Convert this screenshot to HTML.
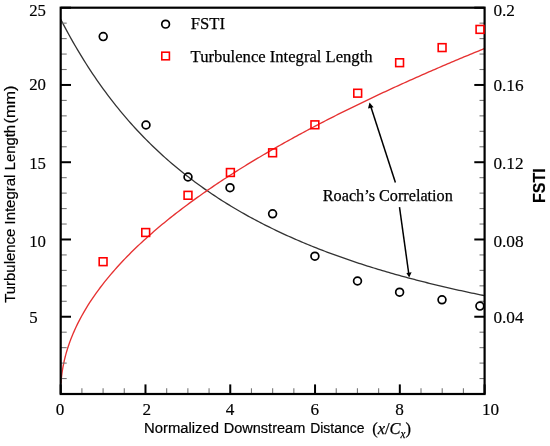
<!DOCTYPE html><html><head><meta charset="utf-8"><style>html,body{margin:0;padding:0;background:#fff;width:550px;height:446px;overflow:hidden}svg{display:block}.s{font-family:"Liberation Serif","Times New Roman",serif}.a{font-family:"Liberation Sans",Arial,sans-serif;stroke:#000;stroke-width:0.2px}</style></head><body>
<svg width="550" height="446" viewBox="0 0 550 446">
<rect width="550" height="446" fill="#fff"/>
<defs><clipPath id="c"><rect x="60.7" y="7.7" width="423.90000000000003" height="386.3"/></clipPath></defs>
<g clip-path="url(#c)" fill="none"><polyline points="60.70,19.23 62.83,23.35 64.96,27.39 67.09,31.35 69.22,35.25 71.35,39.07 73.48,42.82 75.61,46.51 77.74,50.13 79.87,53.69 82.00,57.19 84.13,60.62 86.26,64.00 88.39,67.32 90.52,70.59 92.65,73.79 94.78,76.95 96.91,80.05 99.04,83.11 101.17,86.11 103.30,89.06 105.43,91.97 107.56,94.82 109.69,97.64 111.82,100.41 113.95,103.13 116.08,105.82 118.21,108.46 120.34,111.06 122.47,113.62 124.60,116.14 126.73,118.62 128.86,121.07 130.99,123.48 133.13,125.85 135.26,128.19 137.39,130.49 139.52,132.76 141.65,135.00 143.78,137.21 145.91,139.38 148.04,141.52 150.17,143.64 152.30,145.72 154.43,147.77 156.56,149.80 158.69,151.79 160.82,153.76 162.95,155.71 165.08,157.62 167.21,159.51 169.34,161.38 171.47,163.22 173.60,165.03 175.73,166.82 177.86,168.59 179.99,170.33 182.12,172.05 184.25,173.75 186.38,175.43 188.51,177.09 190.64,178.72 192.77,180.33 194.90,181.93 197.03,183.50 199.16,185.06 201.29,186.59 203.42,188.10 205.55,189.60 207.68,191.08 209.81,192.54 211.94,193.98 214.07,195.41 216.20,196.82 218.33,198.21 220.46,199.58 222.59,200.94 224.72,202.28 226.85,203.61 228.98,204.92 231.11,206.22 233.24,207.50 235.37,208.76 237.50,210.02 239.63,211.25 241.76,212.48 243.89,213.69 246.02,214.88 248.15,216.07 250.28,217.24 252.41,218.39 254.54,219.54 256.67,220.67 258.80,221.79 260.93,222.89 263.06,223.99 265.19,225.07 267.32,226.14 269.45,227.20 271.58,228.25 273.72,229.29 275.85,230.31 277.98,231.33 280.11,232.34 282.24,233.33 284.37,234.31 286.50,235.29 288.63,236.25 290.76,237.21 292.89,238.15 295.02,239.09 297.15,240.01 299.28,240.93 301.41,241.83 303.54,242.73 305.67,243.62 307.80,244.50 309.93,245.37 312.06,246.24 314.19,247.09 316.32,247.94 318.45,248.77 320.58,249.60 322.71,250.43 324.84,251.24 326.97,252.05 329.10,252.84 331.23,253.63 333.36,254.42 335.49,255.19 337.62,255.96 339.75,256.72 341.88,257.48 344.01,258.23 346.14,258.97 348.27,259.70 350.40,260.43 352.53,261.15 354.66,261.86 356.79,262.57 358.92,263.27 361.05,263.96 363.18,264.65 365.31,265.33 367.44,266.01 369.57,266.68 371.70,267.34 373.83,268.00 375.96,268.66 378.09,269.30 380.22,269.94 382.35,270.58 384.48,271.21 386.61,271.83 388.74,272.45 390.87,273.07 393.00,273.68 395.13,274.28 397.26,274.88 399.39,275.47 401.52,276.06 403.65,276.64 405.78,277.22 407.91,277.80 410.04,278.37 412.17,278.93 414.31,279.49 416.44,280.05 418.57,280.60 420.70,281.14 422.83,281.68 424.96,282.22 427.09,282.75 429.22,283.28 431.35,283.81 433.48,284.33 435.61,284.84 437.74,285.36 439.87,285.86 442.00,286.37 444.13,286.87 446.26,287.36 448.39,287.86 450.52,288.34 452.65,288.83 454.78,289.31 456.91,289.79 459.04,290.26 461.17,290.73 463.30,291.20 465.43,291.66 467.56,292.12 469.69,292.57 471.82,293.03 473.95,293.47 476.08,293.92 478.21,294.36 480.34,294.80 482.47,295.24 484.60,295.67" stroke="#333" stroke-width="1.3"/><polyline points="60.95,383.55 61.21,380.11 61.46,377.46 61.72,375.23 61.97,373.27 62.23,371.49 62.48,369.86 62.73,368.33 62.99,366.90 63.24,365.55 63.50,364.26 63.75,363.03 64.01,361.85 64.26,360.71 64.52,359.61 64.77,358.55 65.02,357.53 65.28,356.53 65.53,355.56 65.79,354.61 66.04,353.69 66.30,352.78 66.55,351.90 66.80,351.04 67.06,350.20 67.31,349.37 67.57,348.56 67.82,347.76 68.08,346.97 68.33,346.20 68.58,345.45 68.84,344.70 69.09,343.97 69.35,343.24 69.60,342.53 69.86,341.83 70.11,341.14 70.36,340.45 70.62,339.78 70.87,339.11 71.13,338.45 71.38,337.80 71.64,337.16 71.89,336.53 72.15,335.90 72.40,335.28 72.65,334.66 72.91,334.06 73.16,333.45 73.42,332.86 75.48,328.23 77.55,323.91 79.62,319.84 81.68,316.00 83.75,312.33 85.81,308.83 87.88,305.47 89.95,302.23 92.01,299.10 94.08,296.08 96.15,293.14 98.21,290.29 100.28,287.52 102.34,284.82 104.41,282.19 106.48,279.61 108.54,277.09 110.61,274.63 112.68,272.22 114.74,269.85 116.81,267.53 118.87,265.25 120.94,263.01 123.01,260.81 125.07,258.65 127.14,256.52 129.21,254.42 131.27,252.35 133.34,250.31 135.40,248.31 137.47,246.32 139.54,244.37 141.60,242.44 143.67,240.54 145.74,238.65 147.80,236.80 149.87,234.96 151.93,233.14 154.00,231.35 156.07,229.57 158.13,227.81 160.20,226.08 162.27,224.35 164.33,222.65 166.40,220.96 168.46,219.29 170.53,217.64 172.60,216.00 174.66,214.38 176.73,212.77 178.80,211.17 180.86,209.59 182.93,208.02 184.99,206.47 187.06,204.93 189.13,203.40 191.19,201.88 193.26,200.38 195.33,198.88 197.39,197.40 199.46,195.93 201.52,194.47 203.59,193.02 205.66,191.58 207.72,190.15 209.79,188.73 211.86,187.32 213.92,185.92 215.99,184.53 218.05,183.15 220.12,181.78 222.19,180.41 224.25,179.06 226.32,177.71 228.39,176.37 230.45,175.04 232.52,173.72 234.58,172.41 236.65,171.10 238.72,169.80 240.78,168.51 242.85,167.23 244.92,165.95 246.98,164.68 249.05,163.42 251.11,162.16 253.18,160.91 255.25,159.67 257.31,158.44 259.38,157.21 261.45,155.98 263.51,154.77 265.58,153.56 267.64,152.35 269.71,151.15 271.78,149.96 273.84,148.78 275.91,147.59 277.98,146.42 280.04,145.25 282.11,144.08 284.17,142.93 286.24,141.77 288.31,140.62 290.37,139.48 292.44,138.34 294.51,137.21 296.57,136.08 298.64,134.96 300.70,133.84 302.77,132.73 304.84,131.62 306.90,130.51 308.97,129.41 311.04,128.32 313.10,127.23 315.17,126.14 317.23,125.06 319.30,123.98 321.37,122.91 323.43,121.84 325.50,120.77 327.57,119.71 329.63,118.66 331.70,117.60 333.76,116.56 335.83,115.51 337.90,114.47 339.96,113.43 342.03,112.40 344.10,111.37 346.16,110.34 348.23,109.32 350.29,108.30 352.36,107.29 354.43,106.28 356.49,105.27 358.56,104.27 360.63,103.27 362.69,102.27 364.76,101.28 366.82,100.28 368.89,99.30 370.96,98.31 373.02,97.33 375.09,96.36 377.16,95.38 379.22,94.41 381.29,93.44 383.35,92.48 385.42,91.52 387.49,90.56 389.55,89.60 391.62,88.65 393.69,87.70 395.75,86.75 397.82,85.81 399.88,84.87 401.95,83.93 404.02,82.99 406.08,82.06 408.15,81.13 410.22,80.20 412.28,79.28 414.35,78.36 416.41,77.44 418.48,76.52 420.55,75.61 422.61,74.70 424.68,73.79 426.75,72.88 428.81,71.98 430.88,71.08 432.94,70.18 435.01,69.29 437.08,68.39 439.14,67.50 441.21,66.61 443.28,65.73 445.34,64.84 447.41,63.96 449.47,63.08 451.54,62.20 453.61,61.33 455.67,60.46 457.74,59.59 459.81,58.72 461.87,57.86 463.94,56.99 466.00,56.13 468.07,55.27 470.14,54.42 472.20,53.56 474.27,52.71 476.34,51.86 478.40,51.01 480.47,50.16 482.53,49.32 484.60,48.48" stroke="#e63232" stroke-width="1.35"/></g>
<line x1="60.7" y1="394.00" x2="71" y2="394.00" stroke="#000" stroke-width="2"/><line x1="484.6" y1="394.00" x2="474.30" y2="394.00" stroke="#000" stroke-width="2"/><line x1="60.7" y1="378.55" x2="66.7" y2="378.55" stroke="#777" stroke-width="1.1"/><line x1="484.6" y1="378.55" x2="479.50" y2="378.55" stroke="#777" stroke-width="1.1"/><line x1="60.7" y1="363.10" x2="66.7" y2="363.10" stroke="#777" stroke-width="1.1"/><line x1="484.6" y1="363.10" x2="479.50" y2="363.10" stroke="#777" stroke-width="1.1"/><line x1="60.7" y1="347.64" x2="66.7" y2="347.64" stroke="#777" stroke-width="1.1"/><line x1="484.6" y1="347.64" x2="479.50" y2="347.64" stroke="#777" stroke-width="1.1"/><line x1="60.7" y1="332.19" x2="66.7" y2="332.19" stroke="#777" stroke-width="1.1"/><line x1="484.6" y1="332.19" x2="479.50" y2="332.19" stroke="#777" stroke-width="1.1"/><line x1="60.7" y1="316.74" x2="71" y2="316.74" stroke="#000" stroke-width="2"/><line x1="484.6" y1="316.74" x2="474.30" y2="316.74" stroke="#000" stroke-width="2"/><line x1="60.7" y1="301.29" x2="66.7" y2="301.29" stroke="#777" stroke-width="1.1"/><line x1="484.6" y1="301.29" x2="479.50" y2="301.29" stroke="#777" stroke-width="1.1"/><line x1="60.7" y1="285.84" x2="66.7" y2="285.84" stroke="#777" stroke-width="1.1"/><line x1="484.6" y1="285.84" x2="479.50" y2="285.84" stroke="#777" stroke-width="1.1"/><line x1="60.7" y1="270.38" x2="66.7" y2="270.38" stroke="#777" stroke-width="1.1"/><line x1="484.6" y1="270.38" x2="479.50" y2="270.38" stroke="#777" stroke-width="1.1"/><line x1="60.7" y1="254.93" x2="66.7" y2="254.93" stroke="#777" stroke-width="1.1"/><line x1="484.6" y1="254.93" x2="479.50" y2="254.93" stroke="#777" stroke-width="1.1"/><line x1="60.7" y1="239.48" x2="71" y2="239.48" stroke="#000" stroke-width="2"/><line x1="484.6" y1="239.48" x2="474.30" y2="239.48" stroke="#000" stroke-width="2"/><line x1="60.7" y1="224.03" x2="66.7" y2="224.03" stroke="#777" stroke-width="1.1"/><line x1="484.6" y1="224.03" x2="479.50" y2="224.03" stroke="#777" stroke-width="1.1"/><line x1="60.7" y1="208.58" x2="66.7" y2="208.58" stroke="#777" stroke-width="1.1"/><line x1="484.6" y1="208.58" x2="479.50" y2="208.58" stroke="#777" stroke-width="1.1"/><line x1="60.7" y1="193.12" x2="66.7" y2="193.12" stroke="#777" stroke-width="1.1"/><line x1="484.6" y1="193.12" x2="479.50" y2="193.12" stroke="#777" stroke-width="1.1"/><line x1="60.7" y1="177.67" x2="66.7" y2="177.67" stroke="#777" stroke-width="1.1"/><line x1="484.6" y1="177.67" x2="479.50" y2="177.67" stroke="#777" stroke-width="1.1"/><line x1="60.7" y1="162.22" x2="71" y2="162.22" stroke="#000" stroke-width="2"/><line x1="484.6" y1="162.22" x2="474.30" y2="162.22" stroke="#000" stroke-width="2"/><line x1="60.7" y1="146.77" x2="66.7" y2="146.77" stroke="#777" stroke-width="1.1"/><line x1="484.6" y1="146.77" x2="479.50" y2="146.77" stroke="#777" stroke-width="1.1"/><line x1="60.7" y1="131.32" x2="66.7" y2="131.32" stroke="#777" stroke-width="1.1"/><line x1="484.6" y1="131.32" x2="479.50" y2="131.32" stroke="#777" stroke-width="1.1"/><line x1="60.7" y1="115.86" x2="66.7" y2="115.86" stroke="#777" stroke-width="1.1"/><line x1="484.6" y1="115.86" x2="479.50" y2="115.86" stroke="#777" stroke-width="1.1"/><line x1="60.7" y1="100.41" x2="66.7" y2="100.41" stroke="#777" stroke-width="1.1"/><line x1="484.6" y1="100.41" x2="479.50" y2="100.41" stroke="#777" stroke-width="1.1"/><line x1="60.7" y1="84.96" x2="71" y2="84.96" stroke="#000" stroke-width="2"/><line x1="484.6" y1="84.96" x2="474.30" y2="84.96" stroke="#000" stroke-width="2"/><line x1="60.7" y1="69.51" x2="66.7" y2="69.51" stroke="#777" stroke-width="1.1"/><line x1="484.6" y1="69.51" x2="479.50" y2="69.51" stroke="#777" stroke-width="1.1"/><line x1="60.7" y1="54.06" x2="66.7" y2="54.06" stroke="#777" stroke-width="1.1"/><line x1="484.6" y1="54.06" x2="479.50" y2="54.06" stroke="#777" stroke-width="1.1"/><line x1="60.7" y1="38.60" x2="66.7" y2="38.60" stroke="#777" stroke-width="1.1"/><line x1="484.6" y1="38.60" x2="479.50" y2="38.60" stroke="#777" stroke-width="1.1"/><line x1="60.7" y1="23.15" x2="66.7" y2="23.15" stroke="#777" stroke-width="1.1"/><line x1="484.6" y1="23.15" x2="479.50" y2="23.15" stroke="#777" stroke-width="1.1"/><line x1="60.7" y1="7.70" x2="71" y2="7.70" stroke="#000" stroke-width="2"/><line x1="484.6" y1="7.70" x2="474.30" y2="7.70" stroke="#000" stroke-width="2"/><line x1="60.70" y1="394.0" x2="60.70" y2="384.4" stroke="#000" stroke-width="2"/><line x1="81.90" y1="394.0" x2="81.90" y2="388.3" stroke="#777" stroke-width="1.1"/><line x1="103.09" y1="394.0" x2="103.09" y2="388.3" stroke="#777" stroke-width="1.1"/><line x1="124.28" y1="394.0" x2="124.28" y2="388.3" stroke="#777" stroke-width="1.1"/><line x1="145.48" y1="394.0" x2="145.48" y2="384.4" stroke="#000" stroke-width="2"/><line x1="166.68" y1="394.0" x2="166.68" y2="388.3" stroke="#777" stroke-width="1.1"/><line x1="187.87" y1="394.0" x2="187.87" y2="388.3" stroke="#777" stroke-width="1.1"/><line x1="209.06" y1="394.0" x2="209.06" y2="388.3" stroke="#777" stroke-width="1.1"/><line x1="230.26" y1="394.0" x2="230.26" y2="384.4" stroke="#000" stroke-width="2"/><line x1="251.46" y1="394.0" x2="251.46" y2="388.3" stroke="#777" stroke-width="1.1"/><line x1="272.65" y1="394.0" x2="272.65" y2="388.3" stroke="#777" stroke-width="1.1"/><line x1="293.85" y1="394.0" x2="293.85" y2="388.3" stroke="#777" stroke-width="1.1"/><line x1="315.04" y1="394.0" x2="315.04" y2="384.4" stroke="#000" stroke-width="2"/><line x1="336.24" y1="394.0" x2="336.24" y2="388.3" stroke="#777" stroke-width="1.1"/><line x1="357.43" y1="394.0" x2="357.43" y2="388.3" stroke="#777" stroke-width="1.1"/><line x1="378.63" y1="394.0" x2="378.63" y2="388.3" stroke="#777" stroke-width="1.1"/><line x1="399.82" y1="394.0" x2="399.82" y2="384.4" stroke="#000" stroke-width="2"/><line x1="421.01" y1="394.0" x2="421.01" y2="388.3" stroke="#777" stroke-width="1.1"/><line x1="442.21" y1="394.0" x2="442.21" y2="388.3" stroke="#777" stroke-width="1.1"/><line x1="463.41" y1="394.0" x2="463.41" y2="388.3" stroke="#777" stroke-width="1.1"/><line x1="484.60" y1="394.0" x2="484.60" y2="384.4" stroke="#000" stroke-width="2"/>
<rect x="60.7" y="7.7" width="423.90" height="386.30" fill="none" stroke="#000" stroke-width="2.2"/>
<circle cx="103.2" cy="36.6" r="3.9" fill="none" stroke="#000" stroke-width="1.7"/>
<circle cx="146.0" cy="125.0" r="3.9" fill="none" stroke="#000" stroke-width="1.7"/>
<circle cx="188.0" cy="177.0" r="3.9" fill="none" stroke="#000" stroke-width="1.7"/>
<circle cx="230.0" cy="187.7" r="3.9" fill="none" stroke="#000" stroke-width="1.7"/>
<circle cx="272.6" cy="213.8" r="3.9" fill="none" stroke="#000" stroke-width="1.7"/>
<circle cx="314.9" cy="256.2" r="3.9" fill="none" stroke="#000" stroke-width="1.7"/>
<circle cx="357.5" cy="281.0" r="3.9" fill="none" stroke="#000" stroke-width="1.7"/>
<circle cx="399.6" cy="292.2" r="3.9" fill="none" stroke="#000" stroke-width="1.7"/>
<circle cx="442.0" cy="299.8" r="3.9" fill="none" stroke="#000" stroke-width="1.7"/>
<circle cx="479.9" cy="306.1" r="3.9" fill="none" stroke="#000" stroke-width="1.7"/>
<rect x="99.20" y="257.80" width="7.8" height="7.8" fill="none" stroke="#f00" stroke-width="1.6"/>
<rect x="141.80" y="228.60" width="7.8" height="7.8" fill="none" stroke="#f00" stroke-width="1.6"/>
<rect x="184.10" y="191.40" width="7.8" height="7.8" fill="none" stroke="#f00" stroke-width="1.6"/>
<rect x="226.50" y="168.60" width="7.8" height="7.8" fill="none" stroke="#f00" stroke-width="1.6"/>
<rect x="268.70" y="148.90" width="7.8" height="7.8" fill="none" stroke="#f00" stroke-width="1.6"/>
<rect x="311.00" y="120.90" width="7.8" height="7.8" fill="none" stroke="#f00" stroke-width="1.6"/>
<rect x="353.80" y="89.30" width="7.8" height="7.8" fill="none" stroke="#f00" stroke-width="1.6"/>
<rect x="395.70" y="58.80" width="7.8" height="7.8" fill="none" stroke="#f00" stroke-width="1.6"/>
<rect x="438.20" y="43.70" width="7.8" height="7.8" fill="none" stroke="#f00" stroke-width="1.6"/>
<rect x="476.10" y="25.50" width="7.8" height="7.8" fill="none" stroke="#f00" stroke-width="1.6"/>
<g stroke="#000" stroke-width="1.5" fill="#000"><line x1="395.4" y1="182.4" x2="370.6" y2="106"/><line x1="399.5" y1="207.1" x2="408.8" y2="274"/></g>
<polygon points="369.5,102.6 373.6,107.2 368.0,108.6" fill="#000"/>
<polygon points="409.2,277.6 406.4,272.9 411.6,272.3" fill="#000"/>
<g class="s" font-size="16.8" fill="#000" stroke="#000" stroke-width="0.15"><text x="29.2" y="16.0">25</text><text x="29.2" y="90.1">20</text><text x="29.2" y="168.5">15</text><text x="29.2" y="247.0">10</text><text x="29.2" y="322.5">5</text><text x="493.4" y="16.2" font-size="17.3">0.2</text><text x="493.4" y="91.2" font-size="17.3">0.16</text><text x="493.4" y="168.8" font-size="17.3">0.12</text><text x="493.4" y="247.0" font-size="17.3">0.08</text><text x="493.4" y="322.5" font-size="17.3">0.04</text><text x="60.0" y="414.9" text-anchor="middle" font-size="17.2">0</text><text x="146.9" y="414.9" text-anchor="middle" font-size="17.2">2</text><text x="230.1" y="414.9" text-anchor="middle" font-size="17.2">4</text><text x="314.9" y="414.9" text-anchor="middle" font-size="17.2">6</text><text x="399.6" y="414.9" text-anchor="middle" font-size="17.2">8</text><text x="490.5" y="414.9" text-anchor="middle" font-size="17.2">10</text></g><circle cx="165.6" cy="24.15" r="3.85" fill="none" stroke="#000" stroke-width="1.7"/><rect x="161.8" y="52.2" width="7.6" height="7.6" fill="none" stroke="#f00" stroke-width="1.6"/><g class="s" font-size="17.4" fill="#000" stroke="#000" stroke-width="0.25"><text x="190.8" y="28.9" textLength="34.2" lengthAdjust="spacingAndGlyphs">FSTI</text><text x="190.6" y="61.8" textLength="182" lengthAdjust="spacingAndGlyphs">Turbulence Integral Length</text><text x="322.8" y="201.3" font-size="16" textLength="130" lengthAdjust="spacingAndGlyphs">Roach’s Correlation</text></g><g class="a" font-size="14"><text x="144.0" y="432.8" textLength="75.0" lengthAdjust="spacingAndGlyphs">Normalized</text><text x="223.7" y="432.8" textLength="81.6" lengthAdjust="spacingAndGlyphs">Downstream</text><text x="310.2" y="432.8" textLength="54.2" lengthAdjust="spacingAndGlyphs">Distance</text></g><text class="s" stroke="#000" stroke-width="0.25" x="372.2" y="434.4" font-size="17.2" textLength="38.8" lengthAdjust="spacingAndGlyphs">(<tspan font-style="italic">x</tspan>/<tspan font-style="italic">C</tspan><tspan font-style="italic" font-size="11.5" dy="3.4">x</tspan><tspan dy="-3.4">)</tspan></text><text class="a" transform="translate(15.3,302.8) rotate(-90)" font-size="14" textLength="128.1" lengthAdjust="spacingAndGlyphs">Turbulence Integral</text><text class="a" transform="translate(15.3,170.3) rotate(-90)" font-size="14" textLength="45.3" lengthAdjust="spacingAndGlyphs">Length</text><text class="a" transform="translate(15.3,123.4) rotate(-90)" font-size="14" textLength="37.7" lengthAdjust="spacingAndGlyphs">(mm)</text><text class="a" transform="translate(544.9,203.0) rotate(-90)" font-size="16.6" font-weight="bold" textLength="34.6" lengthAdjust="spacingAndGlyphs">FSTI</text>
</svg></body></html>
